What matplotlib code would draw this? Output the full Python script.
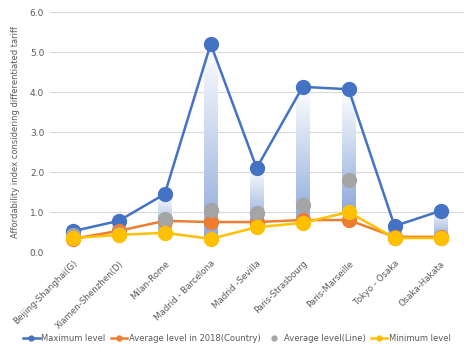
import numpy as np
import matplotlib.pyplot as plt
from matplotlib.colors import LinearSegmentedColormap

routes = ['Beijing-Shanghai(G)', 'Xiamen-Shenzhen(D)', 'Milan-Rome', 'Madrid - Barcelona',
          'Madrid -Sevilla', 'Paris-Strasbourg', 'Paris-Marseille', 'Tokyo - Osaka', 'Osaka-Hakata']
max_level = [0.52, 0.78, 1.45, 5.2, 2.1, 4.13, 4.07, 0.65, 1.03]
avg_country = [0.33, 0.53, 0.78, 0.75, 0.75, 0.8, 0.8, 0.38, 0.38]
avg_line = [0.43, 0.45, 0.83, 1.05, 0.97, 1.17, 1.8, 0.36, 0.36]
min_level = [0.35, 0.43, 0.48, 0.33, 0.62, 0.73, 1.0, 0.35, 0.35]

fig = plt.figure(figsize=(4.74, 3.54), dpi=100)
ax = fig.add_axes([0.105, 0.288, 0.873, 0.678])

x = np.arange(len(routes))

# gradient high-low bars
cmap = LinearSegmentedColormap.from_list('g', ['#8eaadb', '#ffffff'])
grad = np.linspace(0, 1, 256).reshape(-1, 1)
for i in x:
    ax.imshow(grad, extent=(i - 0.15, i + 0.15, min_level[i], max_level[i]),
              cmap=cmap, aspect='auto', origin='lower', zorder=1)

ax.plot(x, max_level, '-o', color='#4472c4', lw=1.8, ms=10, zorder=3, label='Maximum level')
ax.plot(x, avg_country, '-o', color='#ed7d31', lw=1.8, ms=10, zorder=3,
        label='Average level in 2018(Country)')
ax.plot(x, avg_line, 'o', color='#a5a5a5', ms=10, zorder=4, label='Average level(Line)')
ax.plot(x, min_level, '-o', color='#ffc000', lw=1.8, ms=10, zorder=5, label='Minimum level')

ax.set_xlim(-0.5, 8.5)
ax.set_ylim(0, 6)
ax.set_yticks(np.arange(0, 6.1, 1))
ax.set_yticklabels(['%.1f' % v for v in np.arange(0, 6.1, 1)])
ax.set_xticks(x)
ax.set_xticklabels(routes, rotation=45, ha='right', rotation_mode='anchor')
ax.tick_params(axis='y', length=0, labelsize=6.5, colors='#595959', pad=4)
ax.tick_params(axis='x', length=0, labelsize=6.2, colors='#595959', pad=5)
ax.grid(axis='y', color='#d9d9d9', lw=0.8)
ax.set_axisbelow(True)
for s in ax.spines.values():
    s.set_visible(False)
ax.set_ylabel('Affordability index considering differentiated tariff', fontsize=6,
              color='#595959', labelpad=7)

h, l = ax.get_legend_handles_labels()
leg = fig.legend(h, l, loc='center', bbox_to_anchor=(0.5, 0.045), ncol=4, frameon=False,
                 fontsize=6, markerscale=0.35, handlelength=2.0, handletextpad=0.2,
                 columnspacing=0.6, labelcolor='#595959')

fig.savefig('out.png', dpi=100)
